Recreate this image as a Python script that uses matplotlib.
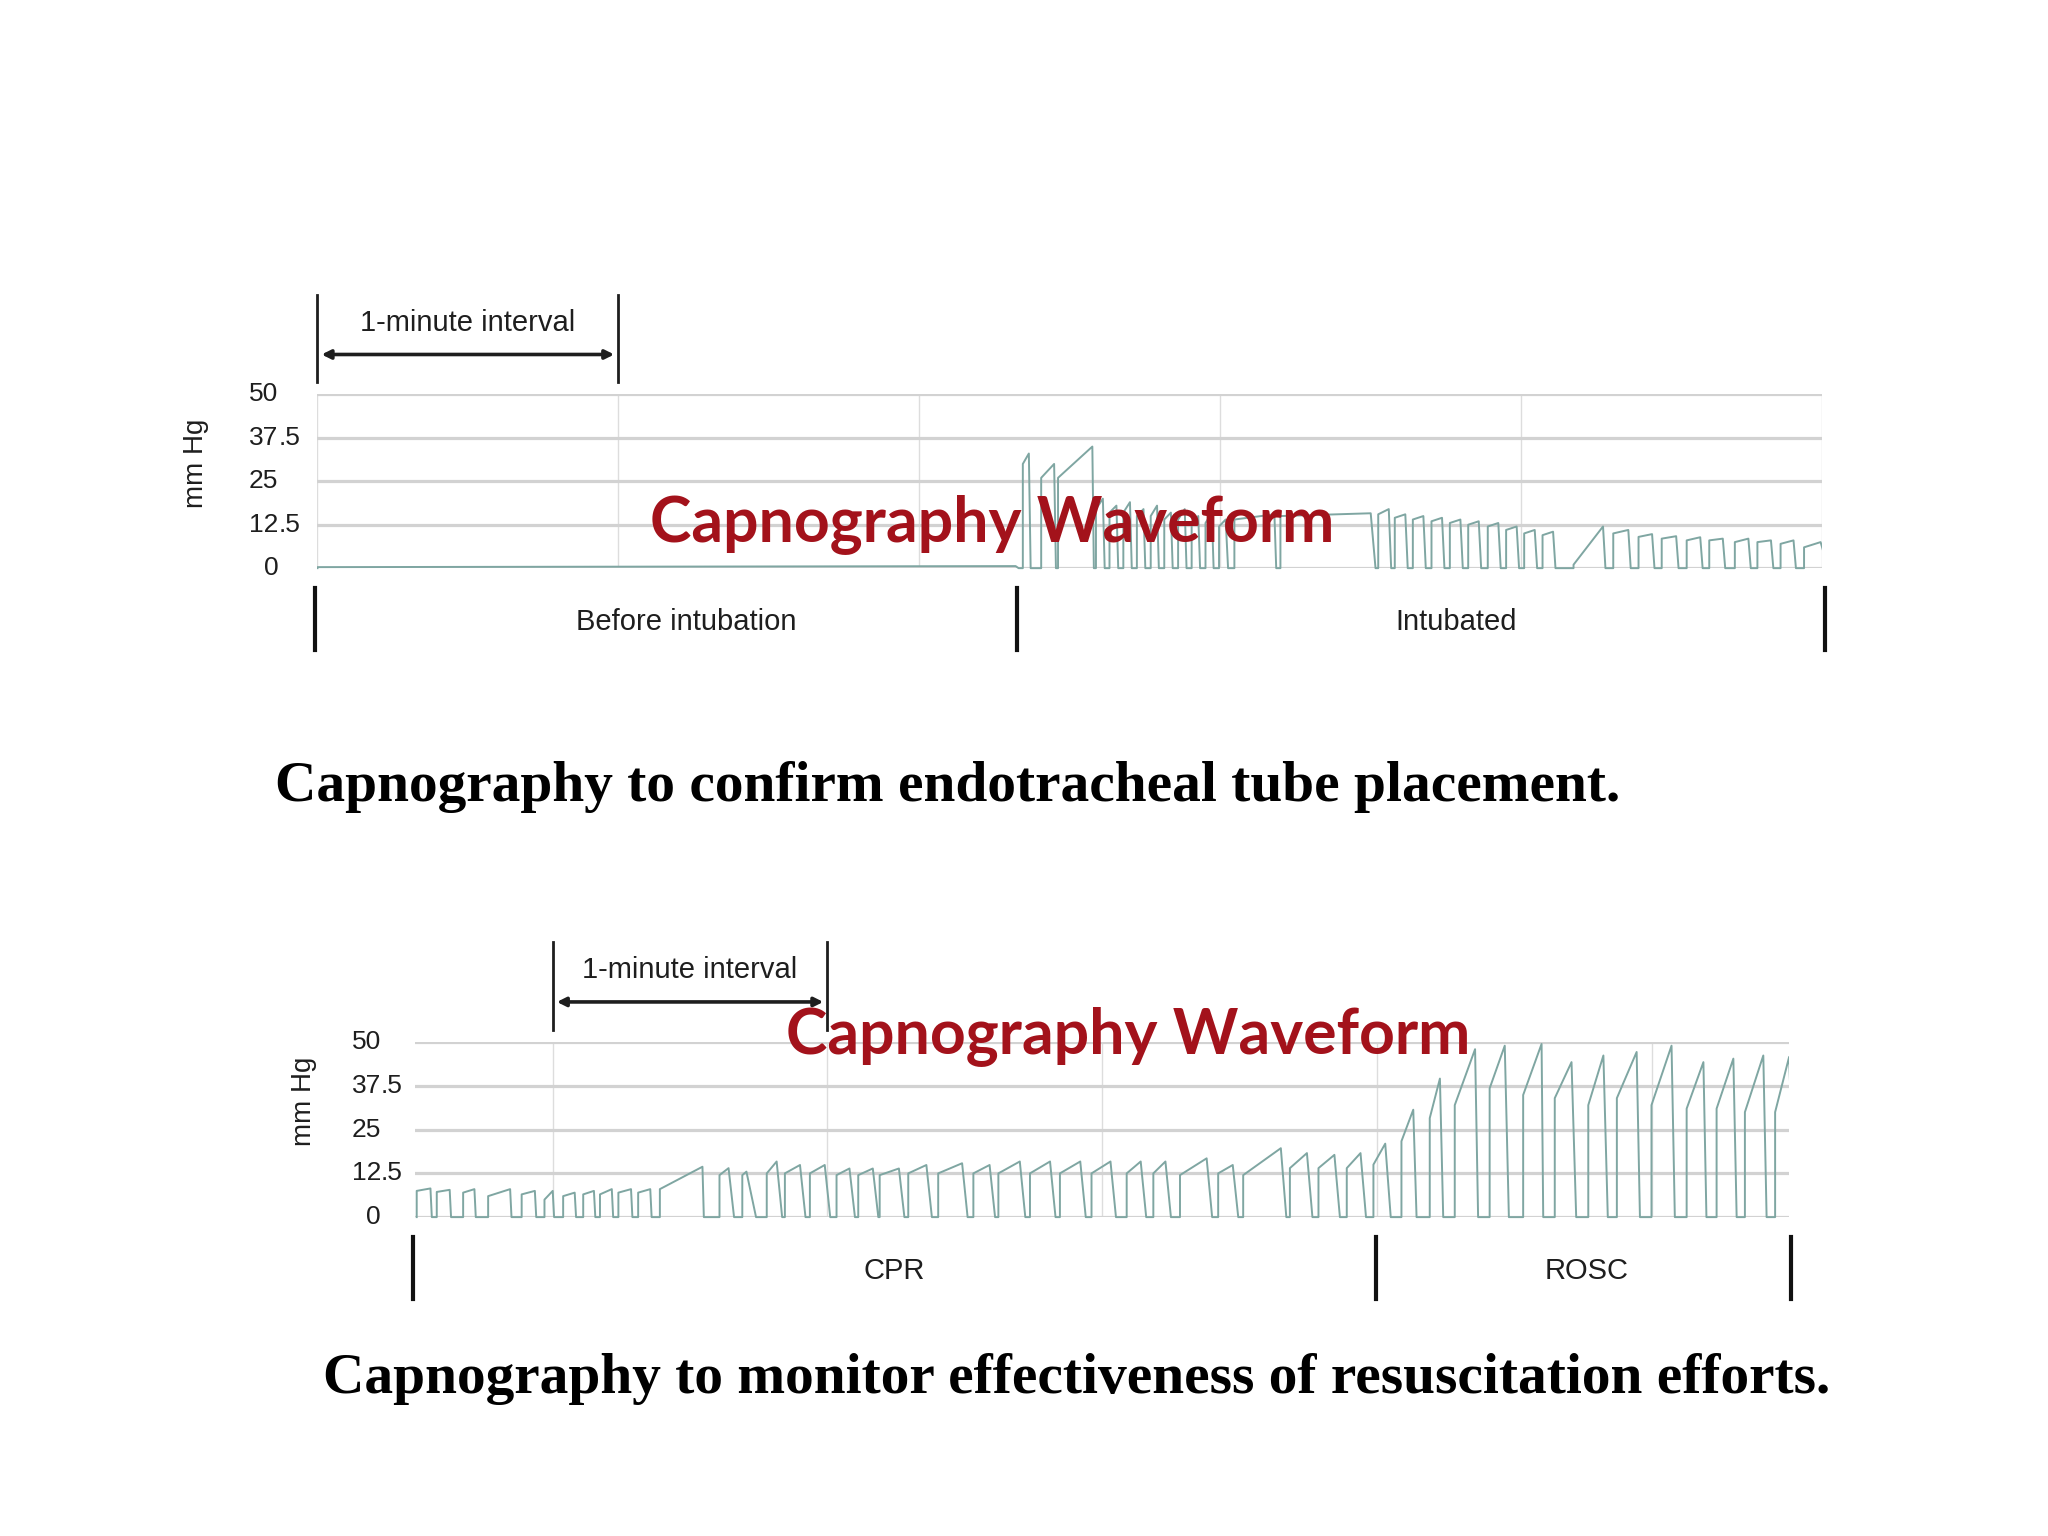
import matplotlib.pyplot as plt
from matplotlib.patches import Rectangle

# ---- data (minutes, mm Hg) ----
y_ticks = [0, 12.5, 25, 37.5, 50]
y_labels = ["0", "12.5", "25", "37.5", "50"]

# top chart: ET tube placement
top_on = [0.000, 2.344, 2.405, 2.461,
          2.587, 2.632, 2.678, 2.723, 2.769, 2.814, 2.860, 2.905, 2.951, 2.996,
          3.047, 3.200,
          3.525, 3.580, 3.640, 3.702, 3.763, 3.824, 3.889, 3.950, 4.010, 4.071,
          4.174,
          4.306, 4.390, 4.467, 4.550, 4.625, 4.710, 4.785, 4.862, 4.940]
top_peak = [2.320, 2.364, 2.448, 2.575,
            2.610, 2.655, 2.700, 2.745, 2.790, 2.836, 2.882, 2.927, 2.972, 3.018,
            3.180, 3.500,
            3.560, 3.615, 3.675, 3.737, 3.798, 3.859, 3.924, 3.985, 4.045, 4.106,
            4.272,
            4.356, 4.435, 4.515, 4.595, 4.670, 4.755, 4.830, 4.905, 4.995]
top_end = [2.330, 2.370, 2.454, 2.580,
           2.616, 2.661, 2.706, 2.751, 2.796, 2.842, 2.888, 2.933, 2.978, 3.026,
           3.186, 3.516,
           3.568, 3.623, 3.683, 3.745, 3.806, 3.867, 3.932, 3.993, 4.053, 4.114,
           4.280,
           4.364, 4.443, 4.523, 4.603, 4.678, 4.763, 4.838, 4.913, 5.020]
top_v0 = [0.3, 30, 26, 26,
          17, 16, 16, 15, 15, 14, 14, 13, 13, 12,
          14, 15,
          15.5, 14.5, 14, 13.5, 13, 12.5, 12, 11, 10, 9.5,
          1,
          10, 9, 8.5, 8, 8, 7.5, 7.5, 7, 6]
top_v1 = [0.6, 33, 30, 35,
          20, 18, 19, 17, 18, 16, 17, 15, 16, 14,
          15.5, 15.8,
          17, 15.5, 15, 14.5, 14, 13.5, 13, 12, 11, 10.5,
          12,
          11, 9.8, 9.2, 8.9, 8.5, 8.5, 8, 8, 7.5]

# bottom chart: CPR -> ROSC
bot_on = [0.005, 0.078, 0.174, 0.265, 0.387, 0.470, 0.538, 0.611, 0.672, 0.739, 0.811, 0.890,
          1.107, 1.190, 1.279, 1.345, 1.436, 1.533, 1.612, 1.690, 1.794, 1.903, 2.031, 2.122, 2.237, 2.346,
          2.461, 2.589, 2.686, 2.783, 2.922, 3.013, 3.183, 3.287, 3.390, 3.487,
          3.589, 3.692, 3.783, 3.910, 4.032, 4.147, 4.269, 4.373, 4.499, 4.627, 4.736, 4.839, 4.949]
bot_peak = [0.055, 0.125, 0.215, 0.345, 0.435, 0.500, 0.580, 0.650, 0.715, 0.785, 0.855, 1.045,
            1.140, 1.205, 1.315, 1.400, 1.490, 1.580, 1.665, 1.760, 1.860, 1.990, 2.090, 2.200, 2.310, 2.420,
            2.530, 2.640, 2.730, 2.880, 2.975, 3.150, 3.245, 3.345, 3.440, 3.530,
            3.632, 3.729, 3.857, 3.965, 4.099, 4.208, 4.324, 4.445, 4.572, 4.688, 4.797, 4.906, 5.000]
bot_end = [0.060, 0.130, 0.220, 0.350, 0.440, 0.505, 0.585, 0.655, 0.720, 0.790, 0.860, 1.050,
           1.160, 1.240, 1.335, 1.420, 1.510, 1.600, 1.685, 1.780, 1.880, 2.010, 2.110, 2.220, 2.330, 2.440,
           2.550, 2.660, 2.750, 2.900, 2.995, 3.170, 3.265, 3.365, 3.460, 3.550,
           3.644, 3.741, 3.868, 3.980, 4.105, 4.225, 4.340, 4.457, 4.584, 4.699, 4.809, 4.918, 5.020]
bot_v0 = [7.5, 7.2, 7, 6, 6.5, 5, 6, 6.5, 6.5, 7, 7, 8,
          12, 12, 12.5, 12.5, 12.5, 12, 12, 12, 12.5, 12.5, 12.5, 12.5, 12.5, 12.5,
          12.5, 12.5, 12.5, 12, 12.5, 12, 14, 14, 14, 15,
          21.7, 28.3, 32, 36.8, 34.9, 34, 32, 34, 32, 31, 31, 30, 30]
bot_v1 = [8.2, 7.8, 8, 8, 7.5, 7.5, 7, 7.5, 8, 8, 8, 14.4,
          14, 13, 15.9, 14.9, 14.9, 13.9, 13.9, 13.9, 14.9, 15.4, 14.9, 15.9, 15.9, 15.9,
          15.9, 15.9, 15.9, 16.8, 14.9, 19.7, 18.3, 17.8, 18.3, 21,
          30.7, 39.6, 48, 49, 49.5, 44.3, 46.2, 47.2, 49, 44.3, 45.3, 46.2, 45.8]

NARROW = ["Liberation Sans", "DejaVu Sans"]
TRACE = "#7fa6a2"
RED = "#a3121b"
INK = "#1e1e1e"


def waveform(on, peak, end, v0, v1):
    xs, ys = [], []
    for a, b, c, s, p in zip(on, peak, end, v0, v1):
        xs += [a, a, b, c]
        ys += [0, s, p, 0]
    return xs, ys


def draw_chart(ax, xs, ys, vgrid, bracket, bars, labels, ylab_x):
    ax.set_xlim(0, 5)
    ax.set_ylim(0, 50)
    for s in ax.spines.values():
        s.set_visible(False)
    ax.set_xticks(vgrid)
    ax.set_yticks(y_ticks)
    ax.tick_params(length=0, labelleft=False, labelbottom=False)
    ax.xaxis.grid(True, color="#dddddd", lw=1.0)
    ax.yaxis.grid(True, color="#d2d2d2", lw=2.3)
    ax.set_axisbelow(True)

    line, = ax.plot(xs, ys, color=TRACE, lw=1.4)
    clip = Rectangle((0, -3), 5, 56, transform=ax.transData)
    line.set_clip_path(clip)

    # decimal-aligned y labels
    for v, lab in zip(y_ticks, y_labels):
        ip, _, fp = lab.partition(".")
        ax.text(ylab_x, v, ip, transform=ax.get_yaxis_transform(), ha="right",
                va="center", fontsize=19, family=NARROW, color=INK)
        if fp:
            ax.text(ylab_x, v, "." + fp, transform=ax.get_yaxis_transform(), ha="left",
                    va="center", fontsize=19, family=NARROW, color=INK)

    tr = ax.get_xaxis_transform()
    # 1-minute interval bracket
    for x in bracket:
        ax.plot([x, x], [1.07, 1.57], transform=tr, clip_on=False, color=INK, lw=2.0)
    ax.annotate("", xy=(bracket[1], 1.23), xytext=(bracket[0], 1.23), xycoords=tr,
                arrowprops=dict(arrowstyle="<|-|>", color=INK, lw=2.6,
                                mutation_scale=13, shrinkA=3, shrinkB=3))
    ax.text(sum(bracket) / 2, 1.41, "1-minute interval", transform=tr, ha="center",
            va="center", fontsize=21, family=NARROW, color=INK)

    # phase markers below the trace
    for x in bars:
        ax.plot([x, x], [-0.115, -0.47], transform=tr, clip_on=False, color="#111111", lw=3.0)
    for x, lab in labels:
        ax.text(x, -0.31, lab, transform=tr, ha="center", va="center",
                fontsize=21, family=NARROW, color=INK)


fig = plt.figure(figsize=(20.48, 15.36), dpi=100)

ax1 = fig.add_axes([0.155, 0.6301, 0.7347, 0.1131])
x1, y1 = waveform(top_on, top_peak, top_end, top_v0, top_v1)
draw_chart(ax1, x1, y1, [0, 1, 2, 3, 4, 5], (0, 1), [-0.009, 2.326, 5.009],
           [(1.224, "Before intubation"), (3.785, "Intubated")], -0.026)

ax2 = fig.add_axes([0.2028, 0.2076, 0.6708, 0.1139])
x2, y2 = waveform(bot_on, bot_peak, bot_end, bot_v0, bot_v1)
draw_chart(ax2, x2, y2, [0.5, 1.5, 2.5, 3.5, 4.5], (0.5, 1.5), [-0.0095, 3.498, 5.005],
           [(1.744, "CPR"), (4.263, "ROSC")], -0.025)

fig.text(0.0957, 0.6982, "mm Hg", rotation=90, ha="center", va="center",
         fontsize=20, family=NARROW, color=INK)
fig.text(0.1484, 0.2832, "mm Hg", rotation=90, ha="center", va="center",
         fontsize=20, family=NARROW, color=INK)

fig.text(0.4847, 0.648, "Capnography Waveform", ha="center", va="baseline",
         fontsize=45, fontweight="bold", family="Lato", color=RED)
fig.text(0.551, 0.3147, "Capnography Waveform", ha="center", va="baseline",
         fontsize=45, fontweight="bold", family="Lato", color=RED)

fig.text(0.4629, 0.4788, "Capnography to confirm endotracheal tube placement.",
         ha="center", va="baseline", fontsize=41.3, fontweight="bold",
         family="Liberation Serif", color="black")
fig.text(0.5258, 0.0928, "Capnography to monitor effectiveness of resuscitation efforts.",
         ha="center", va="baseline", fontsize=41.3, fontweight="bold",
         family="Liberation Serif", color="black")

fig.savefig("out.png", dpi=100, facecolor="white")
